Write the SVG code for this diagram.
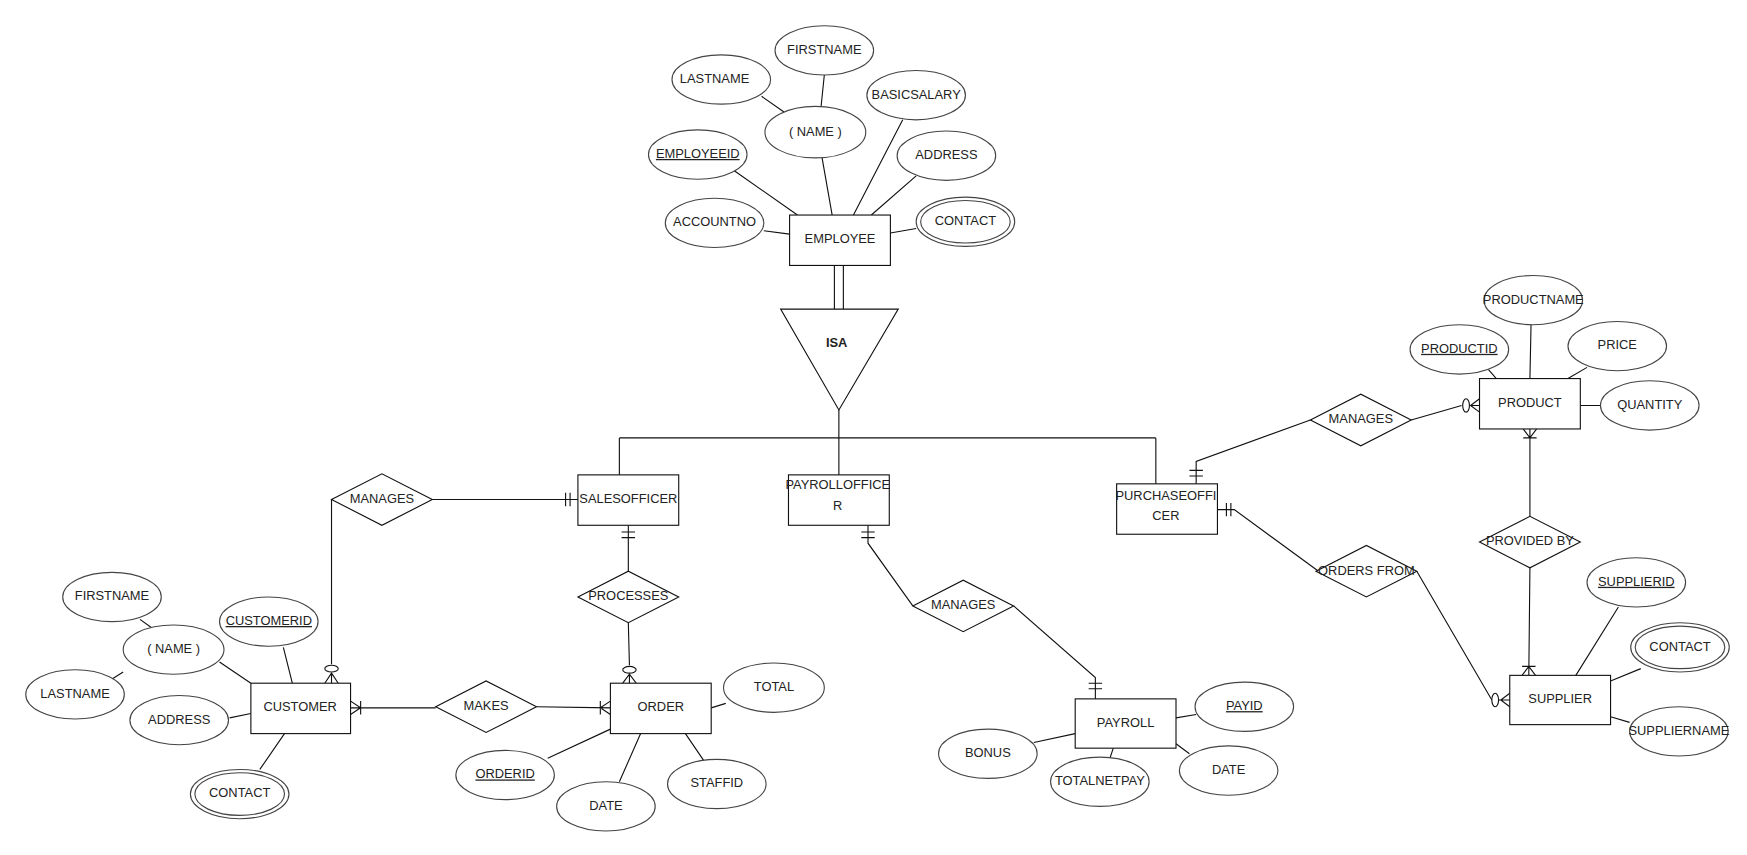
<svg xmlns="http://www.w3.org/2000/svg" width="1747" height="855" viewBox="0 0 1747 855">
<style>
text{font-family:"Liberation Sans",Arial,sans-serif;font-size:11.5px;fill:#222;text-anchor:middle;dominant-baseline:middle}
.e{fill:#fff;stroke:#444;stroke-width:1}
.r{fill:#fff;stroke:#111;stroke-width:1}
.l{fill:none;stroke:#111;stroke-width:1}
.u{text-decoration:underline}
</style>
<rect width="1747" height="855" fill="#fff"/>
<g transform="scale(1.12)">
<g id="connectors" class="l">
<path d="M680,86L700,100M736,67L733,96M734,141L743,192M655,152L712,192M806,107L762,192M818,157L778,192M682,206L705,209M818,204L795,208"/>
<path d="M745,237V276M753,237V276"/>
<path d="M749,366V391M553,391H1032M553,391V424M749,391V424M1032,391V432"/>
<path d="M386,446H516M505,440V452M509,440V452"/>
<path d="M296,446V593M296,601V610M290,610L296,601L302,610"/>
<ellipse cx="296" cy="597" rx="6" ry="3" fill="#fff"/>
<path d="M561,469V510M555,475H567M555,480H567"/>
<path d="M561,556L562,594M562,602V610M556,610L562,602L568,610"/>
<ellipse cx="562" cy="598" rx="6" ry="3" fill="#fff"/>
<path d="M313,632H389M313,626L322,632L313,638M322,626V638"/>
<path d="M479,631L545,632M545,626L536,632L545,638M536,626V638"/>
<path d="M125,553L136,561M110,600L94,610M196,591L224,610M253,578L261,610M205,641L224,637M232,687L254,655"/>
<path d="M635,632L648,628M489,677L545,651M553,698L572,655M629,680L612,655"/>
<path d="M775,469V485L815,541M769,475H781M769,480H781"/>
<path d="M905,541L978,605V624M972,610H984M972,615H984"/>
<path d="M923,663L960,655M991,677L994,668M1062,673L1050,664M1068,638L1050,641"/>
<path d="M1367,290L1366,338M1329,330L1336,338M1417,328L1400,338M1429,362L1411,362"/>
<path d="M1170,375L1068,412V432M1062,420H1074M1062,425H1074"/>
<path d="M1260,375L1305,362M1313,362H1321M1321,356L1313,362L1321,368"/>
<ellipse cx="1309" cy="362" rx="3" ry="6" fill="#fff"/>
<path d="M1366,383V461M1360,383L1366,391L1372,383M1360,391H1372"/>
<path d="M1366,507L1365,603M1359,603L1365,595L1371,603M1359,595H1371"/>
<path d="M1087,455H1102L1180,512M1095,449V461M1099,449V461"/>
<path d="M1265,510L1332,625H1348M1348,619L1340,625L1348,631"/>
<ellipse cx="1335" cy="625" rx="3" ry="6" fill="#fff"/>
<path d="M1445,542L1407,603M1465,597L1438,608M1455,645L1438,640"/>
</g>
<g id="employee"><rect class="r" x="705" y="192" width="90" height="45"/><text x="750" y="214">EMPLOYEE</text></g>
<g id="a-firstname"><ellipse class="e" cx="736" cy="45" rx="44" ry="22"/><text x="736" y="45">FIRSTNAME</text></g>
<g id="a-lastname"><ellipse class="e" cx="644" cy="71" rx="44" ry="22"/><text x="638" y="71">LASTNAME</text></g>
<g id="a-name"><ellipse class="e" cx="728" cy="118" rx="45" ry="23"/><text x="728" y="118">( NAME )</text></g>
<g id="a-basicsalary"><ellipse class="e" cx="818" cy="85" rx="44" ry="22"/><text x="818" y="85">BASICSALARY</text></g>
<g id="a-employeeid"><ellipse class="e" cx="623" cy="138" rx="44" ry="22"/><text class="u" x="623" y="138">EMPLOYEEID</text></g>
<g id="a-address"><ellipse class="e" cx="845" cy="139" rx="44" ry="22"/><text x="845" y="139">ADDRESS</text></g>
<g id="a-accountno"><ellipse class="e" cx="638" cy="199" rx="44" ry="22"/><text x="638" y="199">ACCOUNTNO</text></g>
<g id="a-contact"><ellipse class="e" cx="862" cy="198" rx="44" ry="22"/><ellipse class="e" cx="862" cy="198" rx="40" ry="19"/><text x="862" y="198">CONTACT</text></g>
<g id="isa"><polygon class="r" points="697,276 802,276 749,366"/><text x="747" y="307" style="font-weight:bold">ISA</text></g>
<g id="salesofficer"><rect class="r" x="516" y="424" width="90" height="45"/><text x="561" y="446">SALESOFFICER</text></g>
<g id="payrollofficer"><rect class="r" x="704" y="424" width="90" height="45"/><text x="748" y="434">PAYROLLOFFICE</text><text x="748" y="452">R</text></g>
<g id="purchaseofficer"><rect class="r" x="997" y="432" width="90" height="45"/><text x="1041" y="443">PURCHASEOFFI</text><text x="1041" y="461">CER</text></g>
<g id="manages1"><polygon class="r" points="296,446 341,423 386,446 341,469"/><text x="341" y="446">MANAGES</text></g>
<g id="processes"><polygon class="r" points="516,533 561,510 606,533 561,556"/><text x="561" y="533">PROCESSES</text></g>
<g id="customer"><rect class="r" x="224" y="610" width="89" height="45"/><text x="268" y="632">CUSTOMER</text></g>
<g id="order"><rect class="r" x="545" y="610" width="90" height="45"/><text x="590" y="632">ORDER</text></g>
<g id="makes"><polygon class="r" points="389,631 434,608 479,631 434,654"/><text x="434" y="631">MAKES</text></g>
<g id="c-firstname"><ellipse class="e" cx="100" cy="533" rx="44" ry="22"/><text x="100" y="533">FIRSTNAME</text></g>
<g id="c-name"><ellipse class="e" cx="155" cy="580" rx="45" ry="22"/><text x="155" y="580">( NAME )</text></g>
<g id="c-lastname"><ellipse class="e" cx="67" cy="620" rx="44" ry="22"/><text x="67" y="620">LASTNAME</text></g>
<g id="c-customerid"><ellipse class="e" cx="240" cy="555" rx="44" ry="22"/><text class="u" x="240" y="555">CUSTOMERID</text></g>
<g id="c-address"><ellipse class="e" cx="160" cy="643" rx="44" ry="22"/><text x="160" y="643">ADDRESS</text></g>
<g id="c-contact"><ellipse class="e" cx="214" cy="709" rx="44" ry="22"/><ellipse class="e" cx="214" cy="709" rx="40" ry="19"/><text x="214" y="709">CONTACT</text></g>
<g id="o-total"><ellipse class="e" cx="691" cy="614" rx="45" ry="22"/><text x="691" y="614">TOTAL</text></g>
<g id="o-orderid"><ellipse class="e" cx="451" cy="692" rx="44" ry="22"/><text class="u" x="451" y="692">ORDERID</text></g>
<g id="o-date"><ellipse class="e" cx="541" cy="720" rx="44" ry="22"/><text x="541" y="720">DATE</text></g>
<g id="o-staffid"><ellipse class="e" cx="640" cy="700" rx="44" ry="22"/><text x="640" y="700">STAFFID</text></g>
<g id="manages2"><polygon class="r" points="815,541 860,518 905,541 860,564"/><text x="860" y="541">MANAGES</text></g>
<g id="payroll"><rect class="r" x="960" y="624" width="90" height="44"/><text x="1005" y="646">PAYROLL</text></g>
<g id="p-payid"><ellipse class="e" cx="1111" cy="631" rx="44" ry="22"/><text class="u" x="1111" y="631">PAYID</text></g>
<g id="p-bonus"><ellipse class="e" cx="882" cy="673" rx="44" ry="22"/><text x="882" y="673">BONUS</text></g>
<g id="p-totalnetpay"><ellipse class="e" cx="982" cy="698" rx="44" ry="22"/><text x="982" y="698">TOTALNETPAY</text></g>
<g id="p-date"><ellipse class="e" cx="1097" cy="688" rx="44" ry="22"/><text x="1097" y="688">DATE</text></g>
<g id="manages3"><polygon class="r" points="1170,375 1215,352 1260,375 1215,398"/><text x="1215" y="375">MANAGES</text></g>
<g id="product"><rect class="r" x="1321" y="338" width="90" height="45"/><text x="1366" y="360">PRODUCT</text></g>
<g id="pr-productname"><ellipse class="e" cx="1369" cy="268" rx="44" ry="22"/><text x="1369" y="268">PRODUCTNAME</text></g>
<g id="pr-productid"><ellipse class="e" cx="1303" cy="312" rx="44" ry="22"/><text class="u" x="1303" y="312">PRODUCTID</text></g>
<g id="pr-price"><ellipse class="e" cx="1444" cy="309" rx="44" ry="22"/><text x="1444" y="309">PRICE</text></g>
<g id="pr-quantity"><ellipse class="e" cx="1473" cy="362" rx="44" ry="22"/><text x="1473" y="362">QUANTITY</text></g>
<g id="providedby"><polygon class="r" points="1321,484 1366,461 1411,484 1366,507"/><text x="1366" y="484">PROVIDED BY</text></g>
<g id="ordersfrom"><polygon class="r" points="1175,510 1220,487 1265,510 1220,533"/><text x="1220" y="510">ORDERS FROM</text></g>
<g id="supplier"><rect class="r" x="1348" y="603" width="90" height="44"/><text x="1393" y="625">SUPPLIER</text></g>
<g id="s-supplierid"><ellipse class="e" cx="1461" cy="520" rx="44" ry="22"/><text class="u" x="1461" y="520">SUPPLIERID</text></g>
<g id="s-contact"><ellipse class="e" cx="1500" cy="578" rx="44" ry="22"/><ellipse class="e" cx="1500" cy="578" rx="40" ry="19"/><text x="1500" y="578">CONTACT</text></g>
<g id="s-suppliername"><ellipse class="e" cx="1499" cy="653" rx="44" ry="22"/><text x="1499" y="653">SUPPLIERNAME</text></g>
</g>
</svg>
